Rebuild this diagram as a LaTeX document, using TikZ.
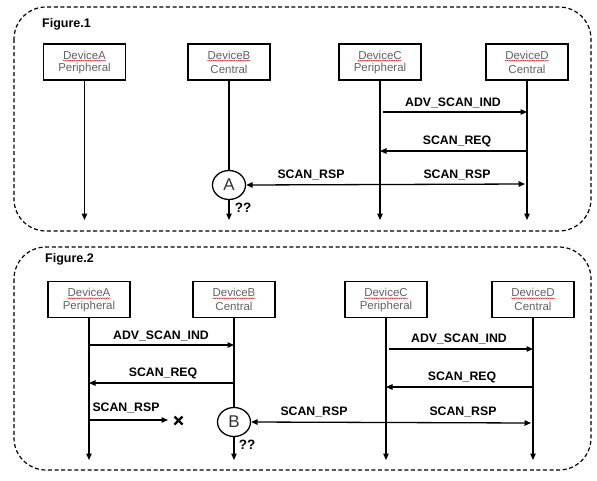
\documentclass[tikz,border=0pt]{standalone}
\usepackage{fontspec}
\setmainfont{Liberation Sans}
\usetikzlibrary{shapes.geometric,arrows.meta,decorations.pathmorphing}
\newcommand\mydev[5]{%
  \node[devbox] (#1) at (#2,#3) {};
  \node[devtxt] (#1t) at (#2,#3-7) {#4};
  \node[devtxt] (#1b) at (#2,#3+7) {#5};
  \draw[squig] ([yshift=-1.6pt]#1t.base west) -- ([yshift=-1.6pt]#1t.base east);
}
\begin{document}
\begin{tikzpicture}[x=1pt,y=-1pt,
  frame/.style={draw,dash pattern=on 4pt off 2.6pt,line width=1.2pt,rounded corners=32pt},
  devbox/.style={draw,line width=1.3pt,minimum width=82pt,minimum height=36pt,inner sep=0pt},
  devtxt/.style={font=\fontsize{11.5}{13}\selectfont,text=black!62,inner sep=0pt},
  squig/.style={red!85!black,line width=0.35pt,decorate,decoration={snake,amplitude=0.45pt,segment length=1.8pt}},
  tip/.tip={Triangle[length=6.5pt,width=5.5pt]},
  life/.style={line width=1.3pt,-tip},
  msg/.style={line width=1.3pt,-tip},
  both/.style={line width=1.3pt,tip-tip},
  lbl/.style={font=\fontsize{12.3}{14}\selectfont\bfseries,inner sep=0pt},
  qq/.style={font=\fontsize{13.5}{15}\selectfont\bfseries,inner sep=0pt},
  circ/.style={draw,ellipse,line width=1.3pt,minimum width=33pt,minimum height=29pt,inner sep=0pt,font=\fontsize{17}{19}\selectfont,text=black!80},
]
\useasboundingbox (0,0) rectangle (597,480);
% ---------- Figure 1 ----------
\draw[frame] (14,7) rectangle (591,231);
\node[font=\fontsize{12.5}{14}\selectfont\bfseries,anchor=west,inner sep=0pt] (fig1) at (42,24) {Figure.1};
\mydev{A1}{84.5}{62}{DeviceA}{Peripheral}
\mydev{B1}{229}{62}{DeviceB}{Central}
\mydev{C1}{380}{62}{DeviceC}{Peripheral}
\mydev{D1}{527}{62}{DeviceD}{Central}
\coordinate (eA1) at (84.5,220);
\coordinate (eB1) at (229,220);
\coordinate (eC1) at (380,220);
\coordinate (eD1) at (527,220);
\node[circ] (cA) at (229,185) {A};
\draw[life] (A1.south) -- (eA1);
\draw[line width=1.3pt] (B1.south) -- (cA.north);
\draw[life] (cA.south) -- (eB1);
\draw[life] (C1.south) -- (eC1);
\draw[life] (D1.south) -- (eD1);
\coordinate (m1s) at (383,112); \coordinate (m1e) at (527,112);
\coordinate (m2s) at (526,151); \coordinate (m2e) at (380,151);
\coordinate (m3e) at (525,184);
\draw[msg] (m1s) -- (m1e);
\draw[msg] (m2s) -- (m2e);
\draw[both] (cA.east) -- (m3e);
\node[lbl] (l11) at (453,103) {ADV\_SCAN\_IND};
\node[lbl] (l12) at (457,141) {SCAN\_REQ};
\node[lbl] (l13) at (311,175) {SCAN\_RSP};
\node[lbl] (l14) at (457,175) {SCAN\_RSP};
\node[qq] (q1) at (243,208) {??};
% ---------- Figure 2 ----------
\draw[frame] (14,247) rectangle (591,470);
\node[font=\fontsize{12.5}{14}\selectfont\bfseries,anchor=west,inner sep=0pt] (fig2) at (45,259) {Figure.2};
\mydev{A2}{89}{299.5}{DeviceA}{Peripheral}
\mydev{B2}{234}{299.5}{DeviceB}{Central}
\mydev{C2}{386}{299.5}{DeviceC}{Peripheral}
\mydev{D2}{533}{299.5}{DeviceD}{Central}
\coordinate (eA2) at (89,460);
\coordinate (eB2) at (234,460);
\coordinate (eC2) at (386,460);
\coordinate (eD2) at (533,460);
\node[circ] (cB) at (234,422) {B};
\draw[life] (A2.south) -- (eA2);
\draw[line width=1.3pt] (B2.south) -- (cB.north);
\draw[life] (cB.south) -- (eB2);
\draw[life] (C2.south) -- (eC2);
\draw[life] (D2.south) -- (eD2);
\coordinate (n1s) at (89,345); \coordinate (n1e) at (234,345);
\coordinate (n2s) at (233,383); \coordinate (n2e) at (89,383);
\coordinate (n3s) at (89,420); \coordinate (n3e) at (168,420);
\coordinate (xm) at (178.5,420.5);
\draw[msg] (n1s) -- (n1e);
\draw[msg] (n2s) -- (n2e);
\draw[msg] (n3s) -- (n3e);
\draw[line width=2.4pt] ([shift={(-4,-4)}]xm) -- ([shift={(4,4)}]xm);
\draw[line width=2.4pt] ([shift={(-4,4)}]xm) -- ([shift={(4,-4)}]xm);
\coordinate (p1s) at (389,349); \coordinate (p1e) at (533,349);
\coordinate (p2s) at (532,387); \coordinate (p2e) at (386,387);
\coordinate (p3e) at (531,423);
\draw[msg] (p1s) -- (p1e);
\draw[msg] (p2s) -- (p2e);
\draw[both] (cB.east) -- (p3e);
\node[lbl] (l21) at (161,336) {ADV\_SCAN\_IND};
\node[lbl] (l22) at (163,373) {SCAN\_REQ};
\node[lbl] (l23) at (126,408) {SCAN\_RSP};
\node[lbl] (l24) at (459,339) {ADV\_SCAN\_IND};
\node[lbl] (l25) at (462,377) {SCAN\_REQ};
\node[lbl] (l26) at (314,412) {SCAN\_RSP};
\node[lbl] (l27) at (463,412) {SCAN\_RSP};
\node[qq] (q2) at (247,445) {??};
\end{tikzpicture}
\end{document}
